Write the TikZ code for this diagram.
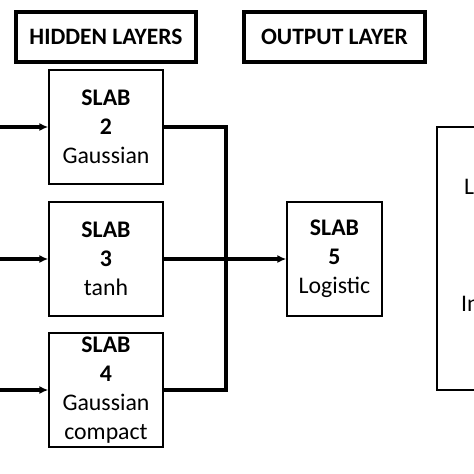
\documentclass[tikz,border=0pt]{standalone}
\usepackage{fontspec}
\setmainfont{Carlito}
\usetikzlibrary{arrows.meta}

\begin{document}
\begin{tikzpicture}[x=1pt, y=-1pt, font=\fontsize{23.8}{28.8}\selectfont,
    slab/.style={rectangle, draw, line width=1.3pt, fill=white, align=center, inner sep=0pt, minimum width=114pt, minimum height=114pt},
    header/.style={rectangle, draw, line width=3.8pt, inner sep=0pt, minimum height=50pt, font=\fontsize{23.5}{28.5}\selectfont\bfseries},
    wire/.style={line width=3.4pt},
    feed/.style={line width=3.2pt, -{Latex[length=9pt, width=8pt]}}]
            \useasboundingbox (0,0) rectangle (474,474);

            % Layer headers
            \node[header, minimum width=180pt] (hdr-hidden) at (106,37) {HIDDEN LAYERS};
            \node[header, minimum width=181pt] (hdr-output) at (334.5,37) {OUTPUT LAYER};

            % Hidden layer slabs
            \node[slab] (slab-2) at (106,127) {\textbf{SLAB}\\\textbf{2}\\Gaussian};
            \node[slab] (slab-3) at (106,259) {\textbf{SLAB}\\\textbf{3}\\tanh};
            \node[slab] (slab-4) at (106,390) {\textbf{SLAB}\\\textbf{4}\\Gaussian\\compact};

            % Output layer slab
            \node[slab, minimum width=95pt] (slab-5) at (334.5,259) {\textbf{SLAB}\\\textbf{5}\\Logistic};

            % Box cut off at the right edge
            \draw[line width=2.2pt] (520,127) -- (437,127) -- (437,390) -- (520,390);
            \node[anchor=west, inner sep=0pt] (right-l) at (464,187) {L};
            \node[anchor=west, inner sep=0pt] (right-in) at (461,304) {In};

            % Inputs
            \coordinate (in-2) at (-5,127);
            \coordinate (in-3) at (-5,259);
            \coordinate (in-4) at (-5,390);
            \draw[feed] (in-2) -- (slab-2);
            \draw[feed] (in-3) -- (slab-3);
            \draw[feed] (in-4) -- (slab-4);

            % Hidden to output
            \coordinate (bus) at (226,259);
            \draw[wire] (slab-2.east) -| (bus) |- (slab-4.east);
            \draw[feed] (slab-3.east) -- (slab-5.west);
        \end{tikzpicture}
\end{document}
